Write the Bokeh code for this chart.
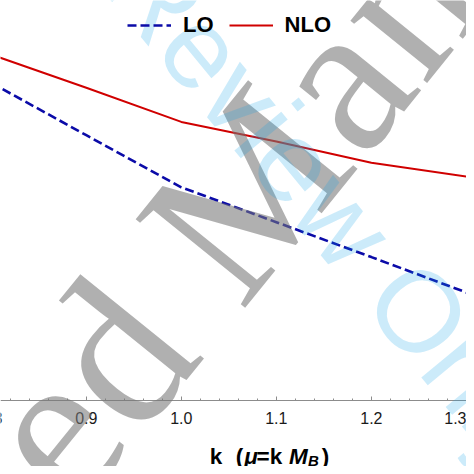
import math
import numpy as np
from bokeh.plotting import figure
from bokeh.models import (Range1d, Label, Legend, LegendItem, FixedTicker,
                          PrintfTickFormatter, ColumnDataSource)
from bokeh.embed import file_html
from bokeh.resources import INLINE

# ---- data (y in arbitrary units) ----
k_values = [0.8, 0.9, 1.0, 1.1, 1.2, 1.3]
lo_values = [3.232, 2.70, 2.17, 1.815, 1.46, 1.10]
nlo_values = [3.52, 3.182, 2.835, 2.635, 2.42, 2.28]
x_ticks = [0.8, 0.9, 1.0, 1.1, 1.2, 1.3]
series_names = ["LO", "NLO"]

SIZE = 466


# helpers: reference-pixel positions -> data coordinates (for annotations)
def kx(px):
    return 0.8 + (px + 9.4) / 967.0


def vy(py):
    return (407.0 - py) / 100.0


src = ColumnDataSource(dict(k=k_values, lo=lo_values, nlo=nlo_values))

p = figure(width=SIZE, height=SIZE,
           x_range=Range1d(kx(0), kx(474.2)), y_range=Range1d(vy(474), vy(0)),
           output_backend="svg", toolbar_location=None, y_axis_location=None,
           min_border_left=0, min_border_right=0, min_border_top=0,
           min_border_bottom=0)
p.outline_line_color = None
p.xgrid.visible = False
p.ygrid.visible = False
p.background_fill_color = "white"

ax = p.xaxis[0]
ax.fixed_location = 0
ax.ticker = FixedTicker(ticks=x_ticks,
                        minor_ticks=list(np.round(np.arange(0.8, 1.3001, 0.02), 2)))
ax.formatter = PrintfTickFormatter(format="%.1f")
ax.axis_line_color = "#8c8c8c"
ax.major_tick_line_color = "#8c8c8c"
ax.minor_tick_line_color = "#8c8c8c"
ax.major_tick_in = 4
ax.major_tick_out = 0
ax.minor_tick_in = 2
ax.minor_tick_out = 0
ax.major_label_text_font = "Liberation Sans"
ax.major_label_text_font_size = "16px"
ax.major_label_text_color = "#1a1a1a"
ax.major_label_standoff = 11

r_lo = p.line("k", "lo", source=src, line_color="#0b0ba8", line_width=2.6,
              line_dash="9 4")
r_nlo = p.line("k", "nlo", source=src, line_color="#d00000", line_width=2)

# partial tick label at the left edge (its tick lies just outside the frame)
p.add_layout(Label(x=x_ticks[0], y=vy(407 + 11 / 0.983), text="%.1f" % x_ticks[0],
                   text_font="Liberation Sans", text_font_size="16px",
                   text_color="#1a1a1a", text_align="center", text_baseline="top"))

# axis title:  k  (μ=k M_B)
base = vy(464.3)
title_parts = [
    ("k", 213, base, "bold", "22.5px"),
    ("(", 239.5, base, "bold", "22.5px"),
    ("\u03bc", 248, base, "bold italic", "22.5px"),
    ("=k", 260.5, base, "bold", "22.5px"),
    ("M", 293.5, base, "bold italic", "22.5px"),
    ("B", 313, vy(468), "bold italic", "15px"),
    (")", 327, base, "bold", "22.5px"),
]
for txt, px, yy, style, size in title_parts:
    p.add_layout(Label(x=kx(px), y=yy, text=txt, text_font="Liberation Sans",
                       text_font_style=style, text_font_size=size,
                       text_color="black", text_align="left",
                       text_baseline="alphabetic"))

# watermark 1 (grey serif letters along a rotated baseline)
wm_letters = ["e", "d", "M", "a", "n"]
wm_advance = [0.222, 0.694, 1.6385, 2.305, 2.777]   # letter centres, em
wm_angle = math.radians(51)
wm_size_ref = 222.0
ax0, ay0 = 20.0, 478.0
ux, uy = math.cos(wm_angle), -math.sin(wm_angle)
for ch, adv in zip(wm_letters, wm_advance):
    bx = ax0 + adv * wm_size_ref * ux
    by = ay0 + adv * wm_size_ref * uy
    p.add_layout(Label(x=kx(bx), y=vy(by), text=ch, angle=wm_angle,
                       text_font="Liberation Serif", text_font_size="215px",
                       text_color="#777777", text_alpha=0.58,
                       text_align="center", text_baseline="alphabetic"))

# watermark 2 (light blue)
p.add_layout(Label(x=kx(132), y=vy(-40), text="Review Only", angle=math.radians(-50.5),
                   text_font="Liberation Sans", text_font_size="115px",
                   text_color="#0fa0e6", text_alpha=0.21,
                   text_align="left", text_baseline="alphabetic"))

legend = Legend(items=[LegendItem(label=series_names[0], renderers=[r_lo]),
                       LegendItem(label=series_names[1], renderers=[r_nlo])],
                orientation="horizontal", location=(127, 428),
                padding=0, margin=0, spacing=15, glyph_width=44, glyph_height=20,
                label_standoff=12, label_text_font="Liberation Sans",
                label_text_font_style="bold", label_text_font_size="22px",
                label_text_color="black",
                background_fill_alpha=0, border_line_color=None)
p.add_layout(legend)

open("out.html", "w").write(file_html(p, INLINE))
